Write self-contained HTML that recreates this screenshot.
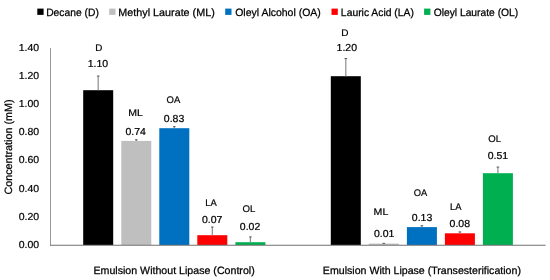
<!DOCTYPE html>
<html><head><meta charset="utf-8"><title>Chart</title>
<style>
html,body{margin:0;padding:0;background:#fff;}
svg{display:block;}
text{font-family:"Liberation Sans",sans-serif;fill:#000;stroke:#000;text-rendering:geometricPrecision;}
</style></head><body>
<svg width="550" height="280" viewBox="0 0 550 280">
<rect width="550" height="280" fill="#fff"/>

<rect x="37.30" y="8.6" width="6.3" height="6.3" fill="#000000"/>
<rect x="109.20" y="8.6" width="6.3" height="6.3" fill="#bfbfbf"/>
<rect x="225.20" y="8.6" width="6.3" height="6.3" fill="#0070c0"/>
<rect x="331.50" y="8.6" width="6.3" height="6.3" fill="#ff0000"/>
<rect x="424.10" y="8.6" width="6.3" height="6.3" fill="#00b050"/>
<text transform="translate(46.17,15.50) scale(0.9725,1)" font-size="10.6" stroke-width="0.25">Decane (D)</text>
<text transform="translate(118.34,15.50) scale(1.0171,1)" font-size="10.6" stroke-width="0.25">Methyl Laurate (ML)</text>
<text transform="translate(235.15,15.50) scale(0.9901,1)" font-size="10.6" stroke-width="0.25">Oleyl Alcohol (OA)</text>
<text transform="translate(340.87,15.50) scale(0.9769,1)" font-size="10.6" stroke-width="0.25">Lauric Acid (LA)</text>
<text transform="translate(433.66,15.50) scale(0.9704,1)" font-size="10.6" stroke-width="0.25">Oleyl Laurate (OL)</text>
<text transform="translate(93.45,274.00) scale(1.0031,1)" font-size="10.6" stroke-width="0.25">Emulsion Without Lipase (Control)</text>
<text transform="translate(322.85,274.00) scale(1.0003,1)" font-size="10.6" stroke-width="0.25">Emulsion With Lipase (Transesterification)</text>
<text transform="translate(95.33,50.80) scale(1.0261,1)" font-size="9.6" stroke-width="0.2">D</text>
<text transform="translate(87.72,66.55) scale(1.0400,1)" font-size="10.1" stroke-width="0.22">1.10</text>
<text transform="translate(128.28,115.55) scale(1.0960,1)" font-size="9.6" stroke-width="0.2">ML</text>
<text transform="translate(125.38,135.45) scale(1.0400,1)" font-size="10.1" stroke-width="0.22">0.74</text>
<text transform="translate(166.55,102.95) scale(0.9891,1)" font-size="9.6" stroke-width="0.2">OA</text>
<text transform="translate(163.86,122.45) scale(1.0400,1)" font-size="10.1" stroke-width="0.22">0.83</text>
<text transform="translate(205.16,205.65) scale(0.9818,1)" font-size="9.6" stroke-width="0.2">LA</text>
<text transform="translate(201.96,222.85) scale(1.0400,1)" font-size="10.1" stroke-width="0.22">0.07</text>
<text transform="translate(242.45,211.65) scale(1.0041,1)" font-size="9.6" stroke-width="0.2">OL</text>
<text transform="translate(239.86,230.35) scale(1.0400,1)" font-size="10.1" stroke-width="0.22">0.02</text>
<text transform="translate(341.32,35.85) scale(1.0435,1)" font-size="9.6" stroke-width="0.2">D</text>
<text transform="translate(336.62,51.35) scale(1.0400,1)" font-size="10.1" stroke-width="0.22">1.20</text>
<text transform="translate(373.57,214.65) scale(1.1040,1)" font-size="9.6" stroke-width="0.2">ML</text>
<text transform="translate(373.94,237.45) scale(1.0400,1)" font-size="10.1" stroke-width="0.22">0.01</text>
<text transform="translate(413.76,196.15) scale(0.9745,1)" font-size="9.6" stroke-width="0.2">OA</text>
<text transform="translate(411.86,221.15) scale(1.0400,1)" font-size="10.1" stroke-width="0.22">0.13</text>
<text transform="translate(449.97,209.85) scale(0.9727,1)" font-size="9.6" stroke-width="0.2">LA</text>
<text transform="translate(449.56,226.95) scale(1.0400,1)" font-size="10.1" stroke-width="0.22">0.08</text>
<text transform="translate(488.35,142.25) scale(0.9959,1)" font-size="9.6" stroke-width="0.2">OL</text>
<text transform="translate(487.64,159.35) scale(1.0400,1)" font-size="10.1" stroke-width="0.22">0.51</text>
<text transform="translate(18.67,247.85) scale(1.0400,1)" font-size="10.1" stroke-width="0.2">0.00</text>
<text transform="translate(18.67,219.71) scale(1.0400,1)" font-size="10.1" stroke-width="0.2">0.20</text>
<text transform="translate(18.67,191.57) scale(1.0400,1)" font-size="10.1" stroke-width="0.2">0.40</text>
<text transform="translate(18.67,163.43) scale(1.0400,1)" font-size="10.1" stroke-width="0.2">0.60</text>
<text transform="translate(18.67,135.29) scale(1.0400,1)" font-size="10.1" stroke-width="0.2">0.80</text>
<text transform="translate(18.67,107.15) scale(1.0400,1)" font-size="10.1" stroke-width="0.2">1.00</text>
<text transform="translate(18.67,79.01) scale(1.0400,1)" font-size="10.1" stroke-width="0.2">1.20</text>
<text transform="translate(18.67,50.87) scale(1.0400,1)" font-size="10.1" stroke-width="0.2">1.40</text>
<rect x="83.2" y="90.2" width="30.0" height="154.8" fill="#000000"/>
<path d="M98.2 90.2V75.9" stroke="#8c8c8c" stroke-width="1.2" fill="none"/>
<path d="M96.9 76.05h2.6" stroke="#4c4c4c" stroke-width="0.9" fill="none"/>
<rect x="121.3" y="140.9" width="30.0" height="104.1" fill="#bfbfbf"/>
<path d="M136.3 140.9V139.6" stroke="#8c8c8c" stroke-width="1.2" fill="none"/>
<path d="M135.0 139.75h2.6" stroke="#4c4c4c" stroke-width="0.9" fill="none"/>
<rect x="159.3" y="128.2" width="30.0" height="116.8" fill="#0070c0"/>
<path d="M174.3 128.2V126.5" stroke="#8c8c8c" stroke-width="1.2" fill="none"/>
<path d="M173.0 126.65h2.6" stroke="#4c4c4c" stroke-width="0.9" fill="none"/>
<rect x="197.3" y="235.2" width="30.0" height="9.8" fill="#ff0000"/>
<path d="M212.3 235.2V226.9" stroke="#8c8c8c" stroke-width="1.2" fill="none"/>
<path d="M211.0 227.05h2.6" stroke="#4c4c4c" stroke-width="0.9" fill="none"/>
<rect x="235.4" y="242.2" width="30.0" height="2.8" fill="#00b050"/>
<path d="M250.4 242.2V236.8" stroke="#8c8c8c" stroke-width="1.2" fill="none"/>
<path d="M249.1 236.95h2.6" stroke="#4c4c4c" stroke-width="0.9" fill="none"/>
<rect x="330.8" y="76.2" width="30.0" height="168.8" fill="#000000"/>
<path d="M345.8 76.2V58.4" stroke="#8c8c8c" stroke-width="1.2" fill="none"/>
<path d="M344.5 58.55h2.6" stroke="#4c4c4c" stroke-width="0.9" fill="none"/>
<rect x="368.8" y="243.6" width="30.0" height="1.4" fill="#bfbfbf"/>
<path d="M383.8 243.6V243.2" stroke="#8c8c8c" stroke-width="1.2" fill="none"/>
<path d="M382.5 243.35h2.6" stroke="#4c4c4c" stroke-width="0.9" fill="none"/>
<rect x="406.9" y="227.1" width="30.0" height="17.9" fill="#0070c0"/>
<path d="M421.9 227.1V225.6" stroke="#8c8c8c" stroke-width="1.2" fill="none"/>
<path d="M420.6 225.75h2.6" stroke="#4c4c4c" stroke-width="0.9" fill="none"/>
<rect x="444.9" y="233.3" width="30.0" height="11.7" fill="#ff0000"/>
<path d="M459.9 233.3V231.8" stroke="#8c8c8c" stroke-width="1.2" fill="none"/>
<path d="M458.6 231.95h2.6" stroke="#4c4c4c" stroke-width="0.9" fill="none"/>
<rect x="482.9" y="173.2" width="30.0" height="71.8" fill="#00b050"/>
<path d="M497.9 173.2V166.9" stroke="#8c8c8c" stroke-width="1.2" fill="none"/>
<path d="M496.6 167.05h2.6" stroke="#4c4c4c" stroke-width="0.9" fill="none"/>
<path d="M50.5 48V245.5" stroke="#9a9a9a" stroke-width="1" fill="none"/>
<path d="M50 245.2H545.6" stroke="#707070" stroke-width="1.15" fill="none"/>
<text transform="translate(11.9,194.51) rotate(-90) scale(1.0151,1)" font-size="10.6" stroke-width="0.25">Concentration (mM)</text>
</svg></body></html>
